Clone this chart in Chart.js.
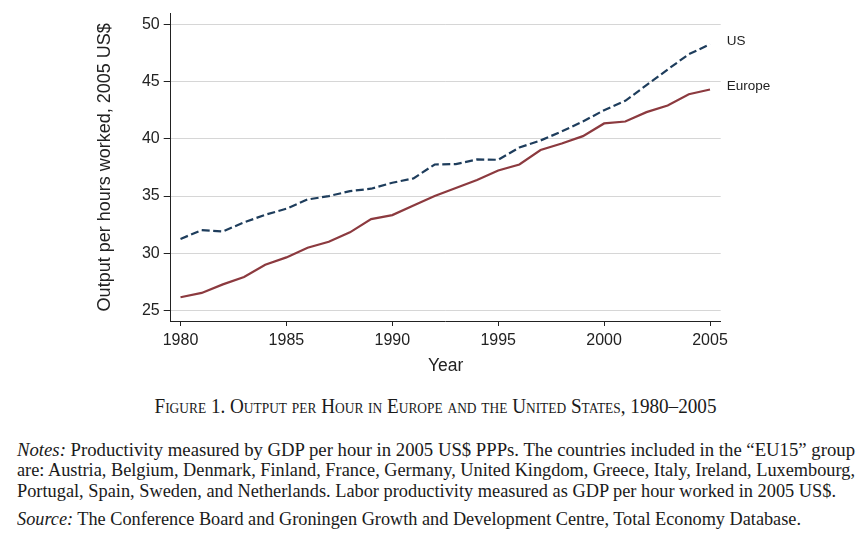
<!DOCTYPE html>
<html>
<head>
<meta charset="utf-8">
<script src="https://cdn.jsdelivr.net/npm/chart.js@4.4.0/dist/chart.umd.min.js"></script>
<style>
  html, body { margin: 0; padding: 0; background: #fff; }
  body { width: 862px; height: 548px; position: relative; overflow: hidden;
         font-family: "Liberation Serif", "Times New Roman", serif; color: #1a1a1a; }
  #wrap { position: absolute; left: 0; top: 0; width: 862px; height: 385px; }
  #caption { position: absolute; top: 396px; left: 0; font-size: 20px; line-height: 20px;
             font-variant: small-caps; white-space: nowrap; transform-origin: 50% 50%; }
  #notes { position: absolute; left: 17px; top: 440px; width: 1600px; }
  .ln { font-size: 19px; line-height: 20.3px; height: 20.3px; }
  .ln span { display: inline-block; white-space: nowrap; transform-origin: 0 0; }
  .src { margin-top: 8.4px; }
</style>
</head>
<body>
<div id="wrap"><canvas id="prodChart" width="862" height="385"></canvas></div>

<span id="caption">Figure 1. Output per Hour in Europe and the United States, 1980–2005</span>

<div id="notes">
  <div class="ln"><span data-w="838"><i>Notes:</i> Productivity measured by GDP per hour in 2005 US$ PPPs. The countries included in the “EU15” group</span></div>
  <div class="ln"><span data-w="838">are: Austria, Belgium, Denmark, Finland, France, Germany, United Kingdom, Greece, Italy, Ireland, Luxembourg,</span></div>
  <div class="ln"><span data-w="819">Portugal, Spain, Sweden, and Netherlands. Labor productivity measured as GDP per hour worked in 2005 US$.</span></div>
  <div class="ln src"><span data-w="784"><i>Source:</i> The Conference Board and Groningen Growth and Development Centre, Total Economy Database.</span></div>
</div>

<script>
// data
const years = [1980, 1981, 1982, 1983, 1984, 1985, 1986, 1987, 1988, 1989,
               1990, 1991, 1992, 1993, 1994, 1995, 1996, 1997, 1998, 1999,
               2000, 2001, 2002, 2003, 2004, 2005];
const usValues = [31.24, 32.02, 31.9, 32.69, 33.36, 33.89, 34.7, 34.99, 35.43, 35.64,
                  36.16, 36.54, 37.76, 37.79, 38.2, 38.17, 39.25, 39.86, 40.65, 41.52,
                  42.51, 43.33, 44.7, 46.07, 47.41, 48.28];
const europeValues = [26.14, 26.52, 27.27, 27.91, 28.99, 29.63, 30.48, 31.0, 31.82, 32.98,
                      33.33, 34.18, 35.0, 35.7, 36.4, 37.24, 37.76, 39.02, 39.6, 40.24,
                      41.35, 41.52, 42.34, 42.92, 43.91, 44.32];
const xTicks = [1980, 1985, 1990, 1995, 2000, 2005];
const yTicks = [25, 30, 35, 40, 45, 50];

const toPoints = vals => years.map((yr, i) => ({ x: yr, y: vals[i] }));

const sans = '"Liberation Sans", Arial, Helvetica, sans-serif';
const ink = '#222';

// series names written just right of the last point
const endLabels = {
  id: 'endLabels',
  afterDatasetsDraw(chart) {
    const ctx = chart.ctx;
    ctx.save();
    ctx.font = '13.5px ' + sans;
    ctx.fillStyle = ink;
    ctx.textBaseline = 'middle';
    ctx.textAlign = 'left';
    chart.data.datasets.forEach((ds, i) => {
      const pts = chart.getDatasetMeta(i).data;
      const last = pts[pts.length - 1];
      ctx.fillText(ds.label, chart.chartArea.right + 6, last.y - 3);
    });
    ctx.restore();
  }
};

new Chart('prodChart', {
  type: 'line',
  data: {
    datasets: [
      {
        label: 'US',
        data: toPoints(usValues),
        borderColor: '#1e3d5c',
        borderWidth: 2.2,
        borderDash: [8, 3.5],
        pointRadius: 0,
        tension: 0,
        fill: false
      },
      {
        label: 'Europe',
        data: toPoints(europeValues),
        borderColor: '#8c3a3f',
        borderWidth: 2.2,
        pointRadius: 0,
        tension: 0,
        fill: false
      }
    ]
  },
  options: {
    responsive: false,
    animation: false,
    layout: { padding: { left: 0, right: 141.3, top: 13.3, bottom: 0 } },
    plugins: { legend: { display: false }, tooltip: { enabled: false } },
    scales: {
      x: {
        type: 'linear',
        min: 1979.537,
        max: 2005.505,
        afterBuildTicks: s => { s.ticks = xTicks.map(v => ({ value: v })); },
        afterFit: s => { s.height = 64; },
        ticks: {
          color: ink, font: { family: sans, size: 16 }, padding: 5,
          maxRotation: 0, autoSkip: false, callback: v => String(v)
        },
        grid: { drawOnChartArea: false, drawTicks: true, tickLength: 5, tickColor: ink },
        border: { color: ink, width: 1 },
        title: {
          display: true, text: 'Year', color: ink,
          font: { family: sans, size: 17.5 }, padding: { top: 0, bottom: 8 }
        }
      },
      y: {
        min: 24.065,
        max: 50.96,
        afterBuildTicks: s => { s.ticks = yTicks.map(v => ({ value: v })); },
        afterFit: s => { s.width = 170.7; },
        ticks: { color: ink, font: { family: sans, size: 16 }, padding: 4, callback: v => String(v) },
        grid: { color: '#d6d6d6', lineWidth: 1, tickLength: 7, tickColor: ink },
        border: { color: ink, width: 1 },
        title: {
          display: true, text: 'Output per hours worked, 2005 US$', color: ink,
          font: { family: sans, size: 18 }, padding: { top: 94, bottom: 0 }
        }
      }
    }
  },
  plugins: [endLabels]
});

// squeeze each serif line to the width it has in the figure
document.querySelectorAll('#notes .ln span').forEach(sp => {
  const w = sp.getBoundingClientRect().width;
  sp.style.transform = 'scaleX(' + (Number(sp.dataset.w) / w) + ')';
});

const cap = document.getElementById('caption');
const cw = cap.getBoundingClientRect().width;
cap.style.left = (435 - cw / 2) + 'px';
cap.style.transform = 'scaleX(' + (562 / cw) + ')';
</script>
</body>
</html>
